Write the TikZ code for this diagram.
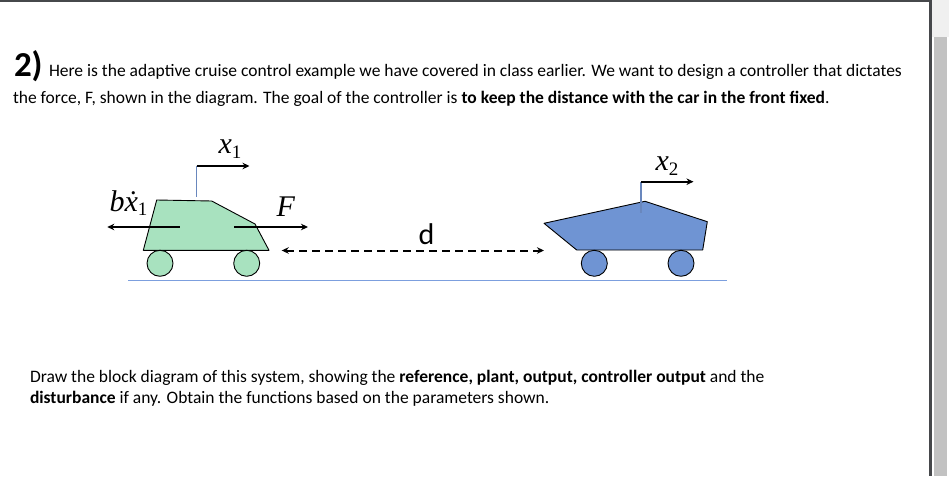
\documentclass[tikz,border=0pt]{standalone}
\usepackage{fontspec}
\setmainfont{Carlito}
\newfontfamily\mfont{Liberation Serif}
\usetikzlibrary{arrows.meta}
\definecolor{framegray}{HTML}{46484B}
\definecolor{barbg}{HTML}{F0F0F0}
\definecolor{thumb}{HTML}{C2C2C2}
\definecolor{cargreen}{HTML}{A8E2BF}
\definecolor{carblue}{HTML}{6F94D3}
\definecolor{groundblue}{HTML}{7C9FDE}
\newcommand{\msub}[1]{\raisebox{-4.5pt}{\fontsize{19}{20}\selectfont\upshape #1}}
\tikzset{
  body/.style={draw=black,line width=0.9pt,line join=round},
  greenpart/.style={body,fill=cargreen},
  bluepart/.style={body,fill=carblue},
  para/.style={anchor=base west,inner sep=0pt,outer sep=0pt,font=\fontsize{17.5}{20}\selectfont,text=black},
  mlabel/.style={anchor=center,inner sep=0pt,font=\mfont\itshape\fontsize{30}{32}\selectfont},
  dlabel/.style={anchor=center,inner sep=0pt,font=\fontsize{30}{32}\selectfont},
  force/.style={draw=black,line width=1.7pt,-{Stealth[length=7pt,width=6.5pt]}},
  stem/.style={draw=groundblue!85!black,line width=1.1pt},
  gap/.style={draw=black,line width=2pt,dash pattern=on 8pt off 5pt,{Stealth[length=7pt,width=6.5pt]}-{Stealth[length=7pt,width=6.5pt]}}
}
\begin{document}
\begin{tikzpicture}[x=1pt,y=-1pt]
\useasboundingbox (0,0) rectangle (949,476);
\fill[white] (0,0) rectangle (949,476);
% window chrome
\fill[barbg] (932,0) rectangle (949,476);
\fill[white] (932,37) rectangle (949,476);
\fill[thumb] (934,37) rectangle (947,476);
\fill[framegray] (0,0) rectangle (932,2);
\fill[framegray] (929,0) rectangle (932,476);
% text
\node[para,font=\fontsize{35}{40}\selectfont\bfseries] (num) at (14,77) {2)};
\node[para] (l1) at (49,77) {Here is the adaptive cruise control example we have covered in class earlier. We want to design a controller that dictates};
\node[para] (l2) at (13,103) {the force, F, shown in the diagram. The goal of the controller is \textbf{to keep the distance with the car in the front fixed}.};
\node[para] (l3) at (30,382) {Draw the block diagram of this system, showing the \textbf{reference, plant, output, controller output} and the};
\node[para] (l4) at (30,403) {\textbf{disturbance} if any. Obtain the functions based on the parameters shown.};
% ground
\coordinate (g1) at (128,280);
\coordinate (g2) at (727,280);
\draw[draw=groundblue,line width=1pt] (g1) -- (g2);
% left car
\draw[greenpart] (156.7,200) -- (211.7,201) -- (255,224) -- (269,250.3) -- (143.3,250.3) -- cycle;
\node[greenpart,circle,minimum size=26pt,inner sep=0pt] (w1) at (160,263.3) {};
\node[greenpart,circle,minimum size=26pt,inner sep=0pt] (w2) at (246.7,263.3) {};
% right car
\draw[bluepart] (544,223.3) -- (645,201.3) -- (707.3,221.7) -- (702.7,250) -- (576.7,250) -- cycle;
\node[bluepart,circle,minimum size=26pt,inner sep=0pt] (w3) at (594.3,263.3) {};
\node[bluepart,circle,minimum size=26pt,inner sep=0pt] (w4) at (681,263.3) {};
% position markers
\coordinate (s1) at (196.7,196.7);
\coordinate (c1) at (196.7,166);
\coordinate (e1) at (249.5,166);
\draw[stem] (s1) -- (c1);
\draw[force] (c1) -- (e1);
\coordinate (s2) at (641,212.7);
\coordinate (c2) at (641,181.7);
\coordinate (e2) at (693.5,181.7);
\draw[stem] (s2) -- (c2);
\draw[force] (c2) -- (e2);
% forces
\coordinate (b1) at (179.5,227);
\coordinate (b2) at (107.3,227);
\draw[force] (b1) -- (b2);
\coordinate (f1) at (234,227);
\coordinate (f2) at (308,227);
\draw[force] (f1) -- (f2);
% distance
\node[dlabel] (d) at (426.5,234) {d};
\coordinate (dl) at (281.7,250.5);
\coordinate (dr) at (544,250.5);
\draw[gap] (dl) -- (dr);
% math labels
\node[mlabel] (x1) at (230,149) {x\msub{1}};
\node[mlabel] (x2) at (667,166) {x\msub{2}};
\node[mlabel] (F) at (285.7,207) {F};
\node[mlabel] (bx) at (128.5,203) {bẋ\msub{1}};
\end{tikzpicture}
\end{document}
